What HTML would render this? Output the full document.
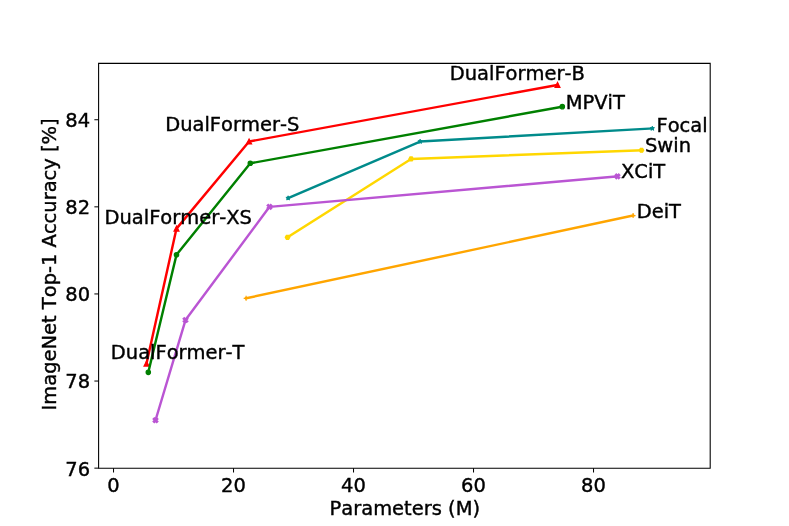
<!DOCTYPE html>
<html lang="en"><head><meta charset="utf-8"><title>ImageNet Top-1 Accuracy vs Parameters</title>
<style>
html,body{margin:0;padding:0;background:#fff;}
body{width:789px;height:526px;overflow:hidden;}
svg{display:block;}
text{font-family:"DejaVu Sans", "Liberation Sans", sans-serif;font-size:19.48px;fill:#000;stroke:#000;stroke-width:0.4px;font-kerning:none;font-variant-ligatures:none;}
</style></head><body>
<svg xmlns="http://www.w3.org/2000/svg" width="789" height="526" viewBox="0 0 789 526">
<rect x="0" y="0" width="789" height="526" fill="#ffffff"/>
<g><polyline points="146.50,363.62 176.50,228.61 249.10,141.51 557.50,84.90" fill="none" stroke="#ff0000" stroke-width="2.43" stroke-linecap="square" stroke-linejoin="round"/>
<polygon points="146.50,361.18 144.06,366.05 148.94,366.05" fill="#ff0000" stroke="#ff0000" stroke-width="1.22" stroke-linejoin="miter"/>
<polygon points="176.50,226.18 174.06,231.05 178.94,231.05" fill="#ff0000" stroke="#ff0000" stroke-width="1.22" stroke-linejoin="miter"/>
<polygon points="249.10,139.08 246.67,143.95 251.54,143.95" fill="#ff0000" stroke="#ff0000" stroke-width="1.22" stroke-linejoin="miter"/>
<polygon points="557.50,82.46 555.07,87.33 559.93,87.33" fill="#ff0000" stroke="#ff0000" stroke-width="1.22" stroke-linejoin="miter"/>
</g>
<g><polyline points="148.30,372.33 176.50,254.74 250.30,163.29 562.30,106.67" fill="none" stroke="#008000" stroke-width="2.43" stroke-linecap="square" stroke-linejoin="round"/>
<circle cx="148.30" cy="372.33" r="2.19" fill="#008000" stroke="#008000" stroke-width="1.22"/>
<circle cx="176.50" cy="254.74" r="2.19" fill="#008000" stroke="#008000" stroke-width="1.22"/>
<circle cx="250.30" cy="163.29" r="2.19" fill="#008000" stroke="#008000" stroke-width="1.22"/>
<circle cx="562.30" cy="106.67" r="2.19" fill="#008000" stroke="#008000" stroke-width="1.22"/>
</g>
<g><polyline points="288.10,198.13 420.10,141.51 652.30,128.45" fill="none" stroke="#008b8b" stroke-width="2.43" stroke-linecap="square" stroke-linejoin="round"/>
<polygon points="288.10,195.81 288.77,197.20 290.30,197.41 289.19,198.48 289.46,200.00 288.10,199.27 286.74,200.00 287.01,198.48 285.90,197.41 287.43,197.20" fill="#008b8b" stroke="#008b8b" stroke-width="0.9" stroke-linejoin="bevel"/>
<polygon points="420.10,139.20 420.77,140.59 422.30,140.80 421.19,141.86 421.46,143.38 420.10,142.66 418.74,143.38 419.01,141.86 417.90,140.80 419.43,140.59" fill="#008b8b" stroke="#008b8b" stroke-width="0.9" stroke-linejoin="bevel"/>
<polygon points="652.30,126.13 652.97,127.52 654.50,127.73 653.39,128.80 653.66,130.32 652.30,129.59 650.94,130.32 651.21,128.80 650.10,127.73 651.63,127.52" fill="#008b8b" stroke="#008b8b" stroke-width="0.9" stroke-linejoin="bevel"/>
</g>
<g><polyline points="287.50,237.32 411.10,158.93 641.50,150.22" fill="none" stroke="#ffd700" stroke-width="2.43" stroke-linecap="square" stroke-linejoin="round"/>
<polygon points="289.75,237.32 288.62,239.27 286.38,239.27 285.25,237.32 286.38,235.37 288.62,235.37" fill="#ffd700" stroke="#ffd700" stroke-width="1.22" stroke-linejoin="miter"/>
<polygon points="413.35,158.93 412.23,160.88 409.98,160.88 408.85,158.93 409.98,156.98 412.23,156.98" fill="#ffd700" stroke="#ffd700" stroke-width="1.22" stroke-linejoin="miter"/>
<polygon points="643.75,150.22 642.62,152.17 640.38,152.17 639.25,150.22 640.38,148.27 642.62,148.27" fill="#ffd700" stroke="#ffd700" stroke-width="1.22" stroke-linejoin="miter"/>
</g>
<g><polyline points="155.50,420.23 185.50,320.07 269.50,206.84 617.50,176.35" fill="none" stroke="#ba55d3" stroke-width="2.43" stroke-linecap="square" stroke-linejoin="round"/>
<polygon points="154.28,417.80 155.50,419.02 156.72,417.80 157.94,419.02 156.72,420.23 157.94,421.45 156.72,422.67 155.50,421.45 154.28,422.67 153.06,421.45 154.28,420.23 153.06,419.02" fill="#ba55d3" stroke="#ba55d3" stroke-width="1.22" stroke-linejoin="miter"/>
<polygon points="184.28,317.63 185.50,318.85 186.72,317.63 187.94,318.85 186.72,320.07 187.94,321.29 186.72,322.50 185.50,321.29 184.28,322.50 183.06,321.29 184.28,320.07 183.06,318.85" fill="#ba55d3" stroke="#ba55d3" stroke-width="1.22" stroke-linejoin="miter"/>
<polygon points="268.28,204.40 269.50,205.62 270.72,204.40 271.94,205.62 270.72,206.84 271.94,208.05 270.72,209.27 269.50,208.05 268.28,209.27 267.06,208.05 268.28,206.84 267.06,205.62" fill="#ba55d3" stroke="#ba55d3" stroke-width="1.22" stroke-linejoin="miter"/>
<polygon points="616.28,173.92 617.50,175.13 618.72,173.92 619.93,175.13 618.72,176.35 619.93,177.57 618.72,178.79 617.50,177.57 616.28,178.79 615.07,177.57 616.28,176.35 615.07,175.13" fill="#ba55d3" stroke="#ba55d3" stroke-width="1.22" stroke-linejoin="miter"/>
</g>
<g><polyline points="246.10,298.29 633.10,215.55" fill="none" stroke="#ffa500" stroke-width="2.43" stroke-linecap="square" stroke-linejoin="round"/>
<path d="M243.67,298.29 H248.54 M246.10,295.86 V300.73" fill="none" stroke="#ffa500" stroke-width="1.22"/>
<path d="M630.66,215.55 H635.53 M633.10,213.11 V217.98" fill="none" stroke="#ffa500" stroke-width="1.22"/>
</g>
<g stroke="#000" stroke-width="1.02" fill="none">
<line x1="113.53" y1="468.14" x2="113.53" y2="472.44"/>
<line x1="233.53" y1="468.14" x2="233.53" y2="472.44"/>
<line x1="353.53" y1="468.14" x2="353.53" y2="472.44"/>
<line x1="473.53" y1="468.14" x2="473.53" y2="472.44"/>
<line x1="593.53" y1="468.14" x2="593.53" y2="472.44"/>
<line x1="98.62" y1="468.14" x2="94.36" y2="468.14"/>
<line x1="98.62" y1="381.04" x2="94.36" y2="381.04"/>
<line x1="98.62" y1="293.94" x2="94.36" y2="293.94"/>
<line x1="98.62" y1="206.84" x2="94.36" y2="206.84"/>
<line x1="98.62" y1="119.74" x2="94.36" y2="119.74"/>
<path d="M98.6,468.2 V63.38 H710.2 V468.2 Z" stroke-width="1.08" stroke-linejoin="miter"/>
</g>
<g>
<text x="113.50" y="491.96" text-anchor="middle">0</text>
<text x="233.50" y="491.96" text-anchor="middle">20</text>
<text x="353.50" y="491.96" text-anchor="middle">40</text>
<text x="473.50" y="491.96" text-anchor="middle">60</text>
<text x="593.50" y="491.96" text-anchor="middle">80</text>
<text x="90.10" y="475.59" text-anchor="end">76</text>
<text x="90.10" y="388.49" text-anchor="end">78</text>
<text x="90.10" y="301.39" text-anchor="end">80</text>
<text x="90.10" y="214.29" text-anchor="end">82</text>
<text x="90.10" y="127.19" text-anchor="end">84</text>
<text x="329.56" y="514.5">Parameters (M)</text>
<text transform="translate(56,410.5) rotate(-90)">ImageNet Top-1 Accuracy [%]</text>
<text x="449.76" y="80.30">DualFormer-B</text>
<text x="565.70" y="108.70">MPViT</text>
<text x="656.50" y="132.20">Focal</text>
<text x="645.00" y="152.10">Swin</text>
<text x="621.00" y="177.90">XCiT</text>
<text x="636.70" y="218.00">DeiT</text>
<text x="165.20" y="130.80">DualFormer-S</text>
<text x="104.50" y="224.00">DualFormer-XS</text>
<text x="110.80" y="359.00">DualFormer-T</text>
</g>
</svg>
</body></html>
